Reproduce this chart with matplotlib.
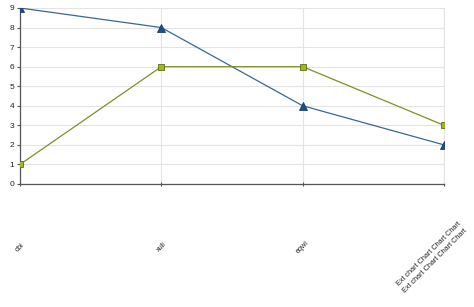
import matplotlib
matplotlib.use("Agg")
import matplotlib.pyplot as plt
import matplotlib.transforms as mtransforms

plt.rcParams["font.family"] = ["Liberation Sans", "DejaVu Sans"]

categories = ["obi", "xuli", "eqwi", "Ext chart Chart Chart Chart\nExt chart Chart Chart Chart"]
series_blue = [9, 8, 4, 2]
series_green = [1, 6, 6, 3]
yticks = [0, 1, 2, 3, 4, 5, 6, 7, 8, 9]

W, H = 474, 307
fig = plt.figure(figsize=(W / 100, H / 100), dpi=100)
ax = fig.add_axes([20 / W, (H - 184) / H, (444 - 20) / W, (184 - 8) / H])

x = list(range(len(categories)))
ax.plot(x, series_blue, color="#3a6794", lw=0.9, marker="^", markersize=5.5,
        markerfacecolor="#1f4e86", markeredgecolor="#1a3f6e", markeredgewidth=0.6, zorder=3)
ax.plot(x, series_green, color="#7f8f2a", lw=0.9, marker="s", markersize=5,
        markerfacecolor="#a3b51f", markeredgecolor="#5f6f10", markeredgewidth=0.6, zorder=3)

ax.set_xlim(0, len(categories) - 1)
ax.set_ylim(0, 9)
ax.set_yticks(yticks)
ax.set_xticks(x)
ax.set_xticklabels(categories, rotation=45, ha="center", va="center",
                   rotation_mode="anchor", fontsize=5.2, color="#222222",
                   linespacing=1.4)
ax.tick_params(axis="x", pad=44, length=3, direction="inout", color="#555555", width=0.8)
ax.tick_params(axis="y", labelsize=6, length=2.5, direction="out", color="#555555",
               width=0.8, pad=1.5, labelcolor="#222222")

# shift the long last label
lbl = ax.get_xticklabels()[-1]
off = mtransforms.ScaledTranslation(-12 / 100, -10 / 100, fig.dpi_scale_trans)
lbl.set_transform(lbl.get_transform() + off)

ax.grid(True, color="#e4e4e4", lw=0.8)
ax.set_axisbelow(True)
ax.spines["top"].set_visible(False)
ax.spines["right"].set_color("#e4e4e4")
ax.spines["left"].set_color("#555555")
ax.spines["bottom"].set_color("#555555")
ax.spines["left"].set_linewidth(0.9)
ax.spines["bottom"].set_linewidth(0.9)

fig.savefig("out.png", dpi=100)
